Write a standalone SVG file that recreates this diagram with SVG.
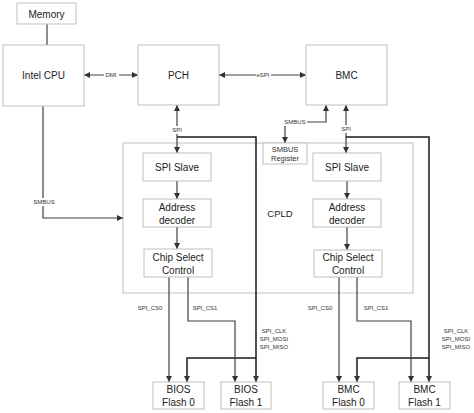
<svg xmlns="http://www.w3.org/2000/svg" width="474" height="413" viewBox="0 0 474 413">
<defs>
<style>
.box{fill:#fff;stroke:#bfbfbf;stroke-width:1}
.t{font-family:"Liberation Sans",Arial,sans-serif;font-size:10px;fill:#222;text-anchor:middle;dominant-baseline:central}
.s{font-family:"Liberation Sans",Arial,sans-serif;font-size:6px;fill:#333;text-anchor:middle;dominant-baseline:central}
.r{font-family:"Liberation Sans",Arial,sans-serif;font-size:7.5px;fill:#333;text-anchor:middle;dominant-baseline:central}
.c{fill:none;stroke:#404040;stroke-width:1.2}
.b{fill:none;stroke:#1a1a1a;stroke-width:1.5}
.bg{fill:#fff}
</style>
<marker id="a" viewBox="0 0 10 10" refX="10" refY="5" markerWidth="7" markerHeight="6" markerUnits="userSpaceOnUse" orient="auto-start-reverse">
<path d="M0,0 L10,5 L0,10 z" fill="#333"/>
</marker>
</defs>
<rect width="474" height="413" fill="#fff"/>
<g id="cpld">
<rect class="box" x="123" y="143" width="290" height="150"/>
<text class="t" x="280" y="213" style="font-size:9.5px">CPLD</text>
</g>
<g id="connectors">
<line class="c" x1="47" y1="24" x2="47" y2="45"/>
<line class="c" x1="84" y1="75" x2="138" y2="75" marker-start="url(#a)" marker-end="url(#a)"/>
<line class="c" x1="219" y1="75" x2="306" y2="75" marker-start="url(#a)" marker-end="url(#a)"/>
<line class="c" x1="177" y1="105" x2="177" y2="153" marker-start="url(#a)" marker-end="url(#a)"/>
<line class="c" x1="346" y1="105" x2="346" y2="153" marker-start="url(#a)" marker-end="url(#a)"/>
<polyline class="b" points="177,137 256,137 256,382" marker-end="url(#a)"/>
<polyline class="b" points="256,358 187,358 187,382" marker-end="url(#a)"/>
<polyline class="b" points="346,137 429,137 429,382" marker-end="url(#a)"/>
<polyline class="b" points="429,358 357,358 357,382" marker-end="url(#a)"/>
<polyline class="c" points="43,106 43,218 123,218" marker-end="url(#a)"/>
<polyline class="c" points="285,143 285,122 326,122 326,105" marker-start="url(#a)" marker-end="url(#a)"/>
<line class="c" x1="177" y1="181" x2="177" y2="199" marker-end="url(#a)"/>
<line class="c" x1="177" y1="227" x2="177" y2="249" marker-end="url(#a)"/>
<line class="c" x1="347" y1="181" x2="347" y2="199" marker-end="url(#a)"/>
<line class="c" x1="347" y1="227" x2="347" y2="250" marker-end="url(#a)"/>
<line class="c" x1="169" y1="277" x2="169" y2="382" marker-end="url(#a)"/>
<polyline class="c" points="188,277 188,321 235,321 235,382" marker-end="url(#a)"/>
<line class="c" x1="339" y1="277" x2="339" y2="382" marker-end="url(#a)"/>
<polyline class="c" points="357,277 357,321 411,321 411,382" marker-end="url(#a)"/>
<rect class="bg" x="104" y="71" width="15" height="8"/>
<text class="s" x="111" y="75">DMI</text>
<rect class="bg" x="256" y="71" width="15" height="8"/>
<text class="s" x="263" y="75">eSPI</text>
<rect class="bg" x="171" y="126" width="12" height="8"/>
<text class="s" x="177" y="130">SPI</text>
<rect class="bg" x="340" y="125" width="12" height="8"/>
<text class="s" x="346" y="129">SPI</text>
<rect class="bg" x="31" y="198" width="25" height="8"/>
<text class="s" x="44" y="202">SMBUS</text>
<rect class="bg" x="283" y="118" width="24" height="8"/>
<text class="s" x="295" y="122">SMBUS</text>
<text class="s" x="150" y="308">SPI_CS0</text>
<text class="s" x="205" y="308">SPI_CS1</text>
<text class="s" x="320" y="308">SPI_CS0</text>
<text class="s" x="376" y="308">SPI_CS1</text>
<text class="s" x="274" y="331">SPI_CLK</text>
<text class="s" x="274" y="339">SPI_MOSI</text>
<text class="s" x="274" y="347">SPI_MISO</text>
<text class="s" x="456" y="331">SPI_CLK</text>
<text class="s" x="456" y="339">SPI_MOSI</text>
<text class="s" x="456" y="347">SPI_MISO</text>
</g>
<g id="memory"><rect class="box" x="17" y="3" width="59" height="21"/><text class="t" x="46.5" y="14">Memory</text></g>
<g id="cpu"><rect class="box" x="3" y="45" width="81" height="61"/><text class="t" x="43.5" y="75.5">Intel CPU</text></g>
<g id="pch"><rect class="box" x="138" y="45" width="81" height="60"/><text class="t" x="178.5" y="75">PCH</text></g>
<g id="bmc"><rect class="box" x="306" y="45" width="81" height="60"/><text class="t" x="346.5" y="75">BMC</text></g>
<g id="smbus-register"><rect class="box" x="263" y="143" width="44" height="21"/><text class="r" x="285" y="149">SMBUS</text><text class="r" x="285" y="158.5">Register</text></g>
<g id="spi-slave-l"><rect class="box" x="143" y="153" width="68" height="28"/><text class="t" x="177" y="167">SPI Slave</text></g>
<g id="addr-l"><rect class="box" x="143" y="199" width="68" height="28"/><text class="t" x="177" y="207">Address</text><text class="t" x="177" y="220">decoder</text></g>
<g id="csc-l"><rect class="box" x="144" y="249" width="68" height="28"/><text class="t" x="178" y="257">Chip Select</text><text class="t" x="178" y="270">Control</text></g>
<g id="spi-slave-r"><rect class="box" x="313" y="153" width="68" height="28"/><text class="t" x="347" y="167">SPI Slave</text></g>
<g id="addr-r"><rect class="box" x="313" y="199" width="68" height="28"/><text class="t" x="347" y="207">Address</text><text class="t" x="347" y="220">decoder</text></g>
<g id="csc-r"><rect class="box" x="314" y="250" width="68" height="27"/><text class="t" x="348" y="257.5">Chip Select</text><text class="t" x="348" y="270">Control</text></g>
<g id="bios-flash-0"><rect class="box" x="153" y="382" width="51" height="27"/><text class="t" x="178.5" y="389">BIOS</text><text class="t" x="178.5" y="402.5">Flash 0</text></g>
<g id="bios-flash-1"><rect class="box" x="221" y="382" width="50" height="27"/><text class="t" x="246" y="389">BIOS</text><text class="t" x="246" y="402.5">Flash 1</text></g>
<g id="bmc-flash-0"><rect class="box" x="323" y="382" width="51" height="27"/><text class="t" x="348.5" y="389">BMC</text><text class="t" x="348.5" y="402.5">Flash 0</text></g>
<g id="bmc-flash-1"><rect class="box" x="399" y="382" width="51" height="27"/><text class="t" x="424.5" y="389">BMC</text><text class="t" x="424.5" y="402.5">Flash 1</text></g>
</svg>
